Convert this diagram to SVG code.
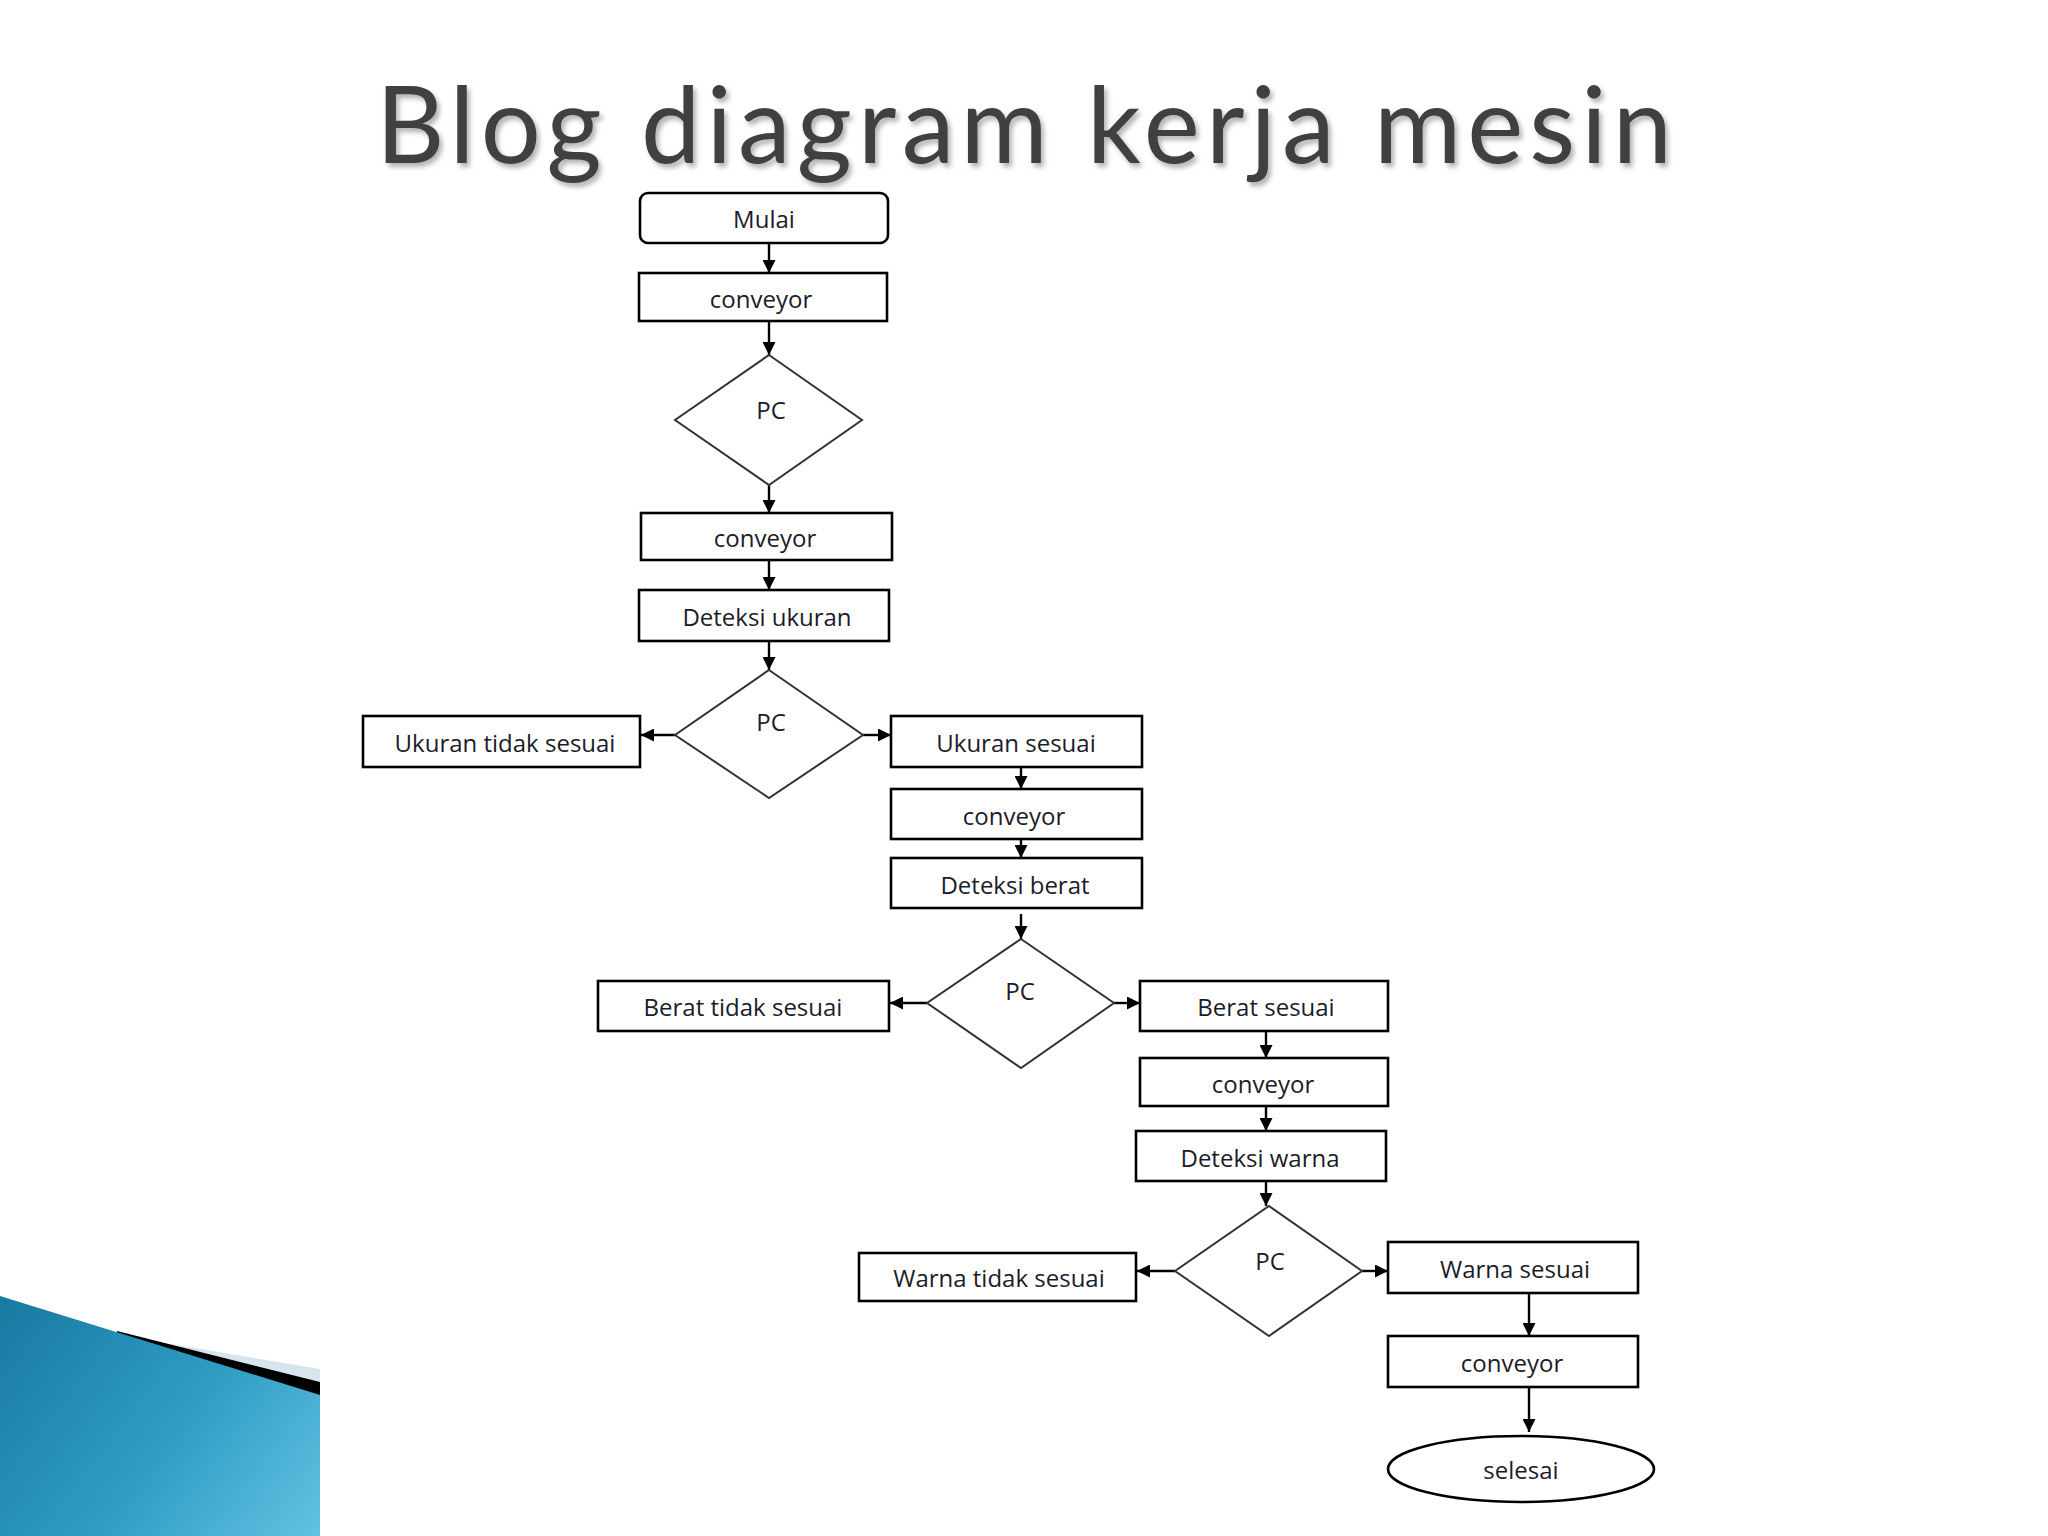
<svg xmlns="http://www.w3.org/2000/svg" width="2048" height="1536" viewBox="0 0 2048 1536">
<defs>
<style>
.box{fill:#fff;stroke:#000;stroke-width:2.6}
.dia{fill:#fff;stroke:#333;stroke-width:2}
.t{font-family:"Open Sans","Liberation Sans",sans-serif;font-size:24px;fill:#1c1c28;text-anchor:middle;dominant-baseline:central}
.c{stroke:#000;stroke-width:2.4;fill:none;marker-end:url(#ah)}
.title{font-family:Lato,"Open Sans",sans-serif;font-size:106px;fill:#404040}
</style>
<marker id="ah" markerWidth="13" markerHeight="13" refX="10" refY="5" orient="auto" markerUnits="userSpaceOnUse" viewBox="0 0 10 10">
<path d="M0,0 L10,5 L0,10 z" fill="#000"/>
</marker>
<filter id="sh" x="-5%" y="-20%" width="110%" height="150%">
<feDropShadow dx="3" dy="4" stdDeviation="2.5" flood-color="#000" flood-opacity="0.3"/>
</filter>
<linearGradient id="sw" x1="0" y1="1290" x2="320" y2="1536" gradientUnits="userSpaceOnUse">
<stop offset="0" stop-color="#1878a0"/>
<stop offset="0.55" stop-color="#2f9cc4"/>
<stop offset="1" stop-color="#62c2e2"/>
</linearGradient>
</defs>
<rect width="2048" height="1536" fill="#fff"/>
<g id="swoosh">
<path d="M165,1343 L320,1369 L320,1383 Z" fill="#d6e6ec"/>
<path d="M117,1331 L320,1382 L320,1405 L117,1340 Z" fill="#000"/>
<path d="M0,1296 L320,1395 L320,1536 L0,1536 Z" fill="url(#sw)"/>
</g>
<text class="title" x="376" y="163" textLength="1296" lengthAdjust="spacing" filter="url(#sh)">Blog diagram kerja mesin</text>
<g id="connectors">
<line class="c" x1="769" y1="243" x2="769" y2="273"/>
<line class="c" x1="769" y1="321" x2="769" y2="355"/>
<line class="c" x1="769" y1="485" x2="769" y2="513"/>
<line class="c" x1="769" y1="560" x2="769" y2="590"/>
<line class="c" x1="769" y1="641" x2="769" y2="670"/>
<line class="c" x1="675" y1="735" x2="641" y2="735"/>
<line class="c" x1="863" y1="735" x2="891" y2="735"/>
<line class="c" x1="1021" y1="767" x2="1021" y2="789"/>
<line class="c" x1="1021" y1="839" x2="1021" y2="858"/>
<line class="c" x1="1021" y1="914" x2="1021" y2="939"/>
<line class="c" x1="927" y1="1003" x2="890" y2="1003"/>
<line class="c" x1="1114" y1="1003" x2="1140" y2="1003"/>
<line class="c" x1="1266" y1="1031" x2="1266" y2="1058"/>
<line class="c" x1="1266" y1="1106" x2="1266" y2="1131"/>
<line class="c" x1="1266" y1="1181" x2="1266" y2="1206"/>
<line class="c" x1="1175" y1="1271" x2="1137" y2="1271"/>
<line class="c" x1="1362" y1="1271" x2="1388" y2="1271"/>
<line class="c" x1="1529" y1="1293" x2="1529" y2="1336"/>
<line class="c" x1="1529" y1="1387" x2="1529" y2="1432"/>
</g>
<g id="mulai"><rect class="box" x="640" y="193" width="248" height="50" rx="8"/><text class="t" x="764" y="218">Mulai</text></g>
<g id="conveyor1"><rect class="box" x="639" y="273" width="248" height="48"/><text class="t" x="761" y="298">conveyor</text></g>
<g id="pc1"><polygon class="dia" points="769,355 862,420 769,485 675,420"/><text class="t" x="771" y="409">PC</text></g>
<g id="conveyor2"><rect class="box" x="641" y="513" width="251" height="47"/><text class="t" x="765" y="537">conveyor</text></g>
<g id="deteksi-ukuran"><rect class="box" x="639" y="590" width="250" height="51"/><text class="t" x="767" y="616">Deteksi ukuran</text></g>
<g id="pc2"><polygon class="dia" points="769,670 863,735 769,798 675,735"/><text class="t" x="771" y="721">PC</text></g>
<g id="ukuran-tidak-sesuai"><rect class="box" x="363" y="716" width="277" height="51"/><text class="t" x="505" y="742">Ukuran tidak sesuai</text></g>
<g id="ukuran-sesuai"><rect class="box" x="891" y="716" width="251" height="51"/><text class="t" x="1016" y="742">Ukuran sesuai</text></g>
<g id="conveyor3"><rect class="box" x="891" y="789" width="251" height="50"/><text class="t" x="1014" y="815">conveyor</text></g>
<g id="deteksi-berat"><rect class="box" x="891" y="858" width="251" height="50"/><text class="t" x="1015" y="884">Deteksi berat</text></g>
<g id="pc3"><polygon class="dia" points="1021,939 1114,1003 1021,1068 927,1003"/><text class="t" x="1020" y="990">PC</text></g>
<g id="berat-tidak-sesuai"><rect class="box" x="598" y="981" width="291" height="50"/><text class="t" x="743" y="1006">Berat tidak sesuai</text></g>
<g id="berat-sesuai"><rect class="box" x="1140" y="981" width="248" height="50"/><text class="t" x="1266" y="1006">Berat sesuai</text></g>
<g id="conveyor4"><rect class="box" x="1140" y="1058" width="248" height="48"/><text class="t" x="1263" y="1083">conveyor</text></g>
<g id="deteksi-warna"><rect class="box" x="1136" y="1131" width="250" height="50"/><text class="t" x="1260" y="1157">Deteksi warna</text></g>
<g id="pc4"><polygon class="dia" points="1269,1206 1362,1271 1269,1336 1175,1271"/><text class="t" x="1270" y="1260">PC</text></g>
<g id="warna-tidak-sesuai"><rect class="box" x="859" y="1253" width="277" height="48"/><text class="t" x="999" y="1277">Warna tidak sesuai</text></g>
<g id="warna-sesuai"><rect class="box" x="1388" y="1242" width="250" height="51"/><text class="t" x="1515" y="1268">Warna sesuai</text></g>
<g id="conveyor5"><rect class="box" x="1388" y="1336" width="250" height="51"/><text class="t" x="1512" y="1362">conveyor</text></g>
<g id="selesai"><ellipse class="box" cx="1521" cy="1469" rx="133" ry="33"/><text class="t" x="1521" y="1469">selesai</text></g>
</svg>
